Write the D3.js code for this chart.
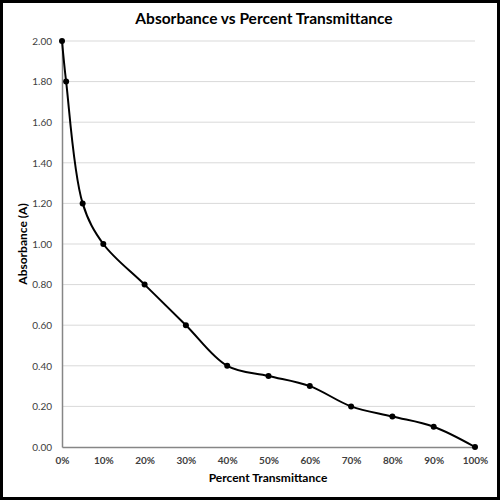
<!DOCTYPE html>
<html><head><meta charset="utf-8">
<script src="https://cdn.jsdelivr.net/npm/d3@7"></script>
<style>body{margin:0;background:#fff}svg{display:block}</style>
</head><body>
<script>
const transmittance = [0, 1, 5, 10, 20, 30, 40, 50, 60, 70, 80, 90, 100];
const absorbance = [2.00, 1.80, 1.20, 1.00, 0.80, 0.60, 0.40, 0.35, 0.30, 0.20, 0.15, 0.10, 0.00];
const xTicks = [0, 10, 20, 30, 40, 50, 60, 70, 80, 90, 100];
const yTicks = [0, 0.2, 0.4, 0.6, 0.8, 1.0, 1.2, 1.4, 1.6, 1.8, 2.0];
const title = "Absorbance vs Percent Transmittance";
const xTitle = "Percent Transmittance";
const yTitle = "Absorbance (A)";

const W = 500, H = 500;
const svg = d3.select("body").append("svg").attr("width", W).attr("height", H);
const font = "Lato, 'Open Sans', sans-serif";

svg.append("rect").attr("x", 1.5).attr("y", 1.5).attr("width", W - 3).attr("height", H - 3)
  .attr("fill", "#fff").attr("stroke", "#000").attr("stroke-width", 3);

const x = d3.scaleLinear().domain([0, 100]).range([62, 475]);
const y = d3.scaleLinear().domain([0, 2]).range([447, 41]);

// gridlines
svg.append("g").selectAll("line").data(yTicks.filter(d => d > 0)).join("line")
  .attr("x1", x(0)).attr("x2", x(100)).attr("y1", d => y(d)).attr("y2", d => y(d))
  .attr("stroke", "#d9d9d9").attr("stroke-width", 1);

// axes
const yAxis = svg.append("g").attr("transform", `translate(${x(0)},0)`)
  .call(d3.axisLeft(y).tickValues(yTicks).tickFormat(d3.format(".2f")).tickSize(0).tickPadding(10));
const xAxis = svg.append("g").attr("transform", `translate(0,${y(0)})`)
  .call(d3.axisBottom(x).tickValues(xTicks).tickFormat(d => d + "%").tickSize(0).tickPadding(10));
[yAxis, xAxis].forEach(a => {
  a.select(".domain").attr("stroke", "#868686").attr("stroke-width", 1.5);
  a.selectAll("text").attr("fill", "#404040").style("font-family", font).style("font-size", "10px");
});
xAxis.selectAll("text").style("font-weight", "bold");

// line
const pts = transmittance.map((t, i) => [t, absorbance[i]]);
svg.append("path").datum(pts)
  .attr("d", d3.line().x(d => x(d[0])).y(d => y(d[1])).curve(d3.curveCatmullRom.alpha(0.5)))
  .attr("fill", "none").attr("stroke", "#000").attr("stroke-width", 2);
svg.append("g").selectAll("circle").data(pts).join("circle")
  .attr("cx", d => x(d[0])).attr("cy", d => y(d[1])).attr("r", 3).attr("fill", "#000");

// titles
svg.append("text").attr("x", 264).attr("y", 24).attr("text-anchor", "middle")
  .style("font-family", font).style("font-weight", "bold").style("font-size", "15.5px").text(title);
svg.append("text").attr("x", 268).attr("y", 482).attr("text-anchor", "middle")
  .style("font-family", font).style("font-weight", "bold").style("font-size", "12px").text(xTitle);
svg.append("text").attr("transform", `translate(27,244) rotate(-90)`).attr("text-anchor", "middle")
  .style("font-family", font).style("font-weight", "bold").style("font-size", "12px").text(yTitle);
</script>
</body></html>
